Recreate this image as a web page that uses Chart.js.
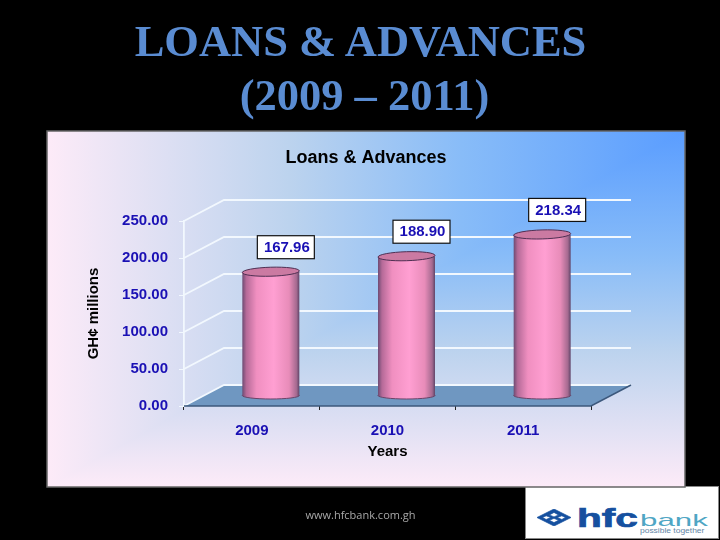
<!DOCTYPE html>
<html lang="en">
<head>
  <meta charset="UTF-8">
  <title>Loans &amp; Advances</title>
  <script src="https://cdn.jsdelivr.net/npm/chart.js"></script>
  <style>
    html, body { margin: 0; padding: 0; background: #000; }
    #slide { position: relative; width: 720px; height: 540px; overflow: hidden; background: #000; }
    #slide canvas { position: absolute; left: 0; top: 0; z-index: 1; }
    h1 { position: absolute; left: 0; top: 14px; width: 721px; margin: 0; text-align: center; z-index: 2;
         font: bold 44.5px/54px "Liberation Serif", serif; color: #5a8cd2; }
    h1 span { position: relative; left: 4px; }
    .footer { position: absolute; left: 287px; width: 147px; top: 507px; text-align: center; z-index: 2;
              font: 11px "Open Sans", sans-serif; color: #a8a8a8; }
    .logo { position: absolute; left: 525px; top: 486px; width: 194px; height: 53px; background: #fff;
            box-sizing: border-box; border: 1px solid #888; overflow: hidden; }
    .logo svg { position: absolute; left: 11px; top: 22px; }
    .logo span { position: absolute; white-space: nowrap; transform-origin: 0 0; font-family: "Liberation Sans", sans-serif; }
    .hfc { left: 51px; top: 17px; font-size: 25px; font-weight: bold; color: #15509f; transform: scaleX(1.62);
           -webkit-text-stroke: 0.7px #15509f; }
    .bank { left: 114px; top: 24px; font-size: 17px; color: #4fa6c4; transform: scaleX(1.84); }
    .tag { left: 114px; top: 40px; font-size: 6.5px; color: #5f86a6; transform: scaleX(1.3); }
  </style>
</head>
<body>
  <div id="slide">
    <h1>LOANS &amp; ADVANCES<br><span>(2009 – 2011)</span></h1>
    <div class="logo">
      <svg width="34" height="17" viewBox="0 0 37 20" preserveAspectRatio="none">
        <path d="M18.5 0 L37 10 L18.5 20 L0 10 Z M18.5 4 L13.5 7 L18.5 9.3 L23.5 7 Z M10 8 L6 10 L10 12.3 L15 10 Z M27 8 L22 10 L27 12.3 L31 10 Z M18.5 11 L13.5 13.3 L18.5 16 L23.5 13.3 Z" fill="#15509f" stroke="#15509f" stroke-width="0.8" fill-rule="evenodd"/>
      </svg>
      <span class="hfc">hfc</span>
      <span class="bank">bank</span>
      <span class="tag">possible together</span>
    </div>
    <canvas id="loansChart" width="720" height="540"></canvas>
    <div class="footer">www.hfcbank.com.gh</div>
  </div>

  <script>
    const categories = ['2009', '2010', '2011'];
    const loans = [167.96, 188.90, 218.34];
    const yMax = 250;
    const yStep = 50;

    const blue = '#1a10b4';
    const gridWhite = '#f2f8fe';
    const depthX = 40;
    const depthY = 21;
    const barShiftX = 19;
    const barShiftY = 10;

    function drawPanel(ctx) {
      const l = 47, t = 131, r = 685, b = 487;
      const stops = [[0, '#5a9dff'], [0.35, '#88bcf8'], [0.62, '#bcd3ee'], [1, '#fdebf8']];

      // rectangular gradient out of the top right corner, so two parts meeting on the diagonal
      const horiz = ctx.createLinearGradient(r, 0, l, 0);
      const vert = ctx.createLinearGradient(0, t, 0, b);
      stops.forEach(s => { horiz.addColorStop(s[0], s[1]); vert.addColorStop(s[0], s[1]); });

      ctx.fillStyle = vert;
      ctx.fillRect(l, t, r - l, b - t);
      ctx.fillStyle = horiz;
      ctx.beginPath();
      ctx.moveTo(r, t); ctx.lineTo(l, t); ctx.lineTo(l, b); ctx.closePath();
      ctx.fill();

      ctx.strokeStyle = '#666';
      ctx.lineWidth = 1.5;
      ctx.strokeRect(l, t, r - l, b - t);
    }

    const scene3d = {
      id: 'scene3d',
      beforeDraw(chart) {
        drawPanel(chart.ctx);
      },
      beforeDatasetsDraw(chart) {
        const ctx = chart.ctx;
        const x0 = chart.scales.x.left;
        const x1 = chart.scales.x.right;
        const y0 = chart.scales.y.bottom;

        // floor
        ctx.fillStyle = '#6f97c1';
        ctx.beginPath();
        ctx.moveTo(x0, y0);
        ctx.lineTo(x1, y0);
        ctx.lineTo(x1 + depthX, y0 - depthY);
        ctx.lineTo(x0 + depthX, y0 - depthY);
        ctx.closePath();
        ctx.fill();

        // gridlines, side wall then back wall
        ctx.strokeStyle = gridWhite;
        ctx.lineWidth = 1.8;
        chart.scales.y.ticks.forEach(tick => {
          const y = chart.scales.y.getPixelForValue(tick.value);
          ctx.beginPath();
          ctx.moveTo(x0, y);
          ctx.lineTo(x0 + depthX, y - depthY);
          ctx.lineTo(x1 + depthX, y - depthY);
          ctx.stroke();
        });

        // front and right floor edge
        ctx.strokeStyle = '#3c587c';
        ctx.lineWidth = 1.5;
        ctx.beginPath();
        ctx.moveTo(x0, y0);
        ctx.lineTo(x1, y0);
        ctx.lineTo(x1 + depthX, y0 - depthY);
        ctx.stroke();

        // bottoms of the cylinders
        chart.getDatasetMeta(0).data.forEach(bar => {
          ctx.fillStyle = barGradient(ctx, bar.x + barShiftX, bar.width);
          ctx.strokeStyle = '#6a4468';
          ctx.lineWidth = 1;
          ctx.beginPath();
          ctx.ellipse(bar.x + barShiftX, bar.base - barShiftY, bar.width / 2, 3.5, 0, 0, Math.PI * 2);
          ctx.fill();
          ctx.stroke();
        });

        ctx.save();
        ctx.translate(barShiftX, -barShiftY);
      },
      afterDatasetsDraw(chart) {
        const ctx = chart.ctx;
        ctx.restore();

        chart.getDatasetMeta(0).data.forEach((bar, i) => {
          const cx = bar.x + barShiftX;
          const cy = bar.y - barShiftY;

          // top of the cylinder
          ctx.fillStyle = '#cb7aa2';
          ctx.strokeStyle = '#4f2f52';
          ctx.lineWidth = 1;
          ctx.beginPath();
          ctx.ellipse(cx, cy, bar.width / 2, 4.5, -0.03, 0, Math.PI * 2);
          ctx.fill();
          ctx.stroke();

          // value box
          const bw = 57, bh = 23;
          const bx = cx + 15 - bw / 2;
          const by = cy - 24.5 - bh / 2;
          ctx.fillStyle = '#fff';
          ctx.fillRect(bx, by, bw, bh);
          ctx.strokeStyle = '#111';
          ctx.lineWidth = 1.2;
          ctx.strokeRect(bx, by, bw, bh);
          ctx.fillStyle = blue;
          ctx.font = 'bold 15px "Liberation Sans", sans-serif';
          ctx.textAlign = 'center';
          ctx.textBaseline = 'middle';
          ctx.fillText(loans[i].toFixed(2), bx + bw / 2 + 1, by + bh / 2 + 0.5);
        });
      }
    };

    function barGradient(ctx, cx, width) {
      const g = ctx.createLinearGradient(cx - width / 2, 0, cx + width / 2, 0);
      g.addColorStop(0, '#6d4a72');
      g.addColorStop(0.07, '#b56a98');
      g.addColorStop(0.25, '#f08fc0');
      g.addColorStop(0.55, '#ff9fd2');
      g.addColorStop(0.82, '#e88cb9');
      g.addColorStop(0.95, '#a56a90');
      g.addColorStop(1, '#5f4468');
      return g;
    }

    new Chart(document.getElementById('loansChart'), {
      type: 'bar',
      data: {
        labels: categories,
        datasets: [{
          label: 'Loans & Advances',
          data: loans,
          barPercentage: 0.42,
          categoryPercentage: 1,
          backgroundColor(c) {
            const chart = c.chart;
            if (!chart.chartArea) return '#ff9fd2';
            // the canvas is already shifted while the bars draw, so no barShiftX here
            const cx = chart.scales.x.getPixelForValue(c.dataIndex);
            const w = (chart.scales.x.width / categories.length) * 0.42;
            return barGradient(chart.ctx, cx, w);
          }
        }]
      },
      options: {
        responsive: false,
        animation: false,
        layout: { padding: { left: 47, right: 35, top: 147, bottom: 53 } },
        plugins: {
          legend: { display: false },
          tooltip: { enabled: false },
          title: {
            display: true,
            text: 'Loans & Advances',
            color: '#000',
            font: { family: '"Liberation Sans", sans-serif', size: 18, weight: 'bold' },
            padding: { top: 0, bottom: 52.4 }
          }
        },
        scales: {
          x: {
            afterFit(scale) { scale.height = 81; },
            grid: { drawOnChartArea: false, tickLength: 4, tickColor: '#222', offset: true },
            border: { display: false },
            ticks: {
              color: blue,
              padding: 12,
              font: { family: '"Liberation Sans", sans-serif', size: 15, weight: 'bold' }
            },
            title: {
              display: true,
              text: 'Years',
              color: '#000',
              padding: { top: 2, bottom: 26 },
              font: { family: '"Liberation Sans", sans-serif', size: 15, weight: 'bold' }
            }
          },
          y: {
            min: 0,
            max: yMax,
            afterFit(scale) { scale.width = 137; },
            grid: { drawOnChartArea: false, tickLength: 5, tickColor: gridWhite },
            border: { color: gridWhite, width: 1.8 },
            ticks: {
              stepSize: yStep,
              color: blue,
              padding: 11,
              callback: v => v.toFixed(2),
              font: { family: '"Liberation Sans", sans-serif', size: 15, weight: 'bold' }
            },
            title: {
              display: true,
              text: 'GH¢ millions',
              color: '#000',
              padding: { top: 38, bottom: 0 },
              font: { family: '"Liberation Sans", sans-serif', size: 15, weight: 'bold' }
            }
          },
          // empty axis, only there to keep the plot clear of the right side of the panel
          yRight: {
            position: 'right',
            afterFit(scale) { scale.width = 94; },
            grid: { display: false },
            border: { display: false },
            ticks: { display: false }
          }
        }
      },
      plugins: [scene3d]
    });
  </script>
</body>
</html>
